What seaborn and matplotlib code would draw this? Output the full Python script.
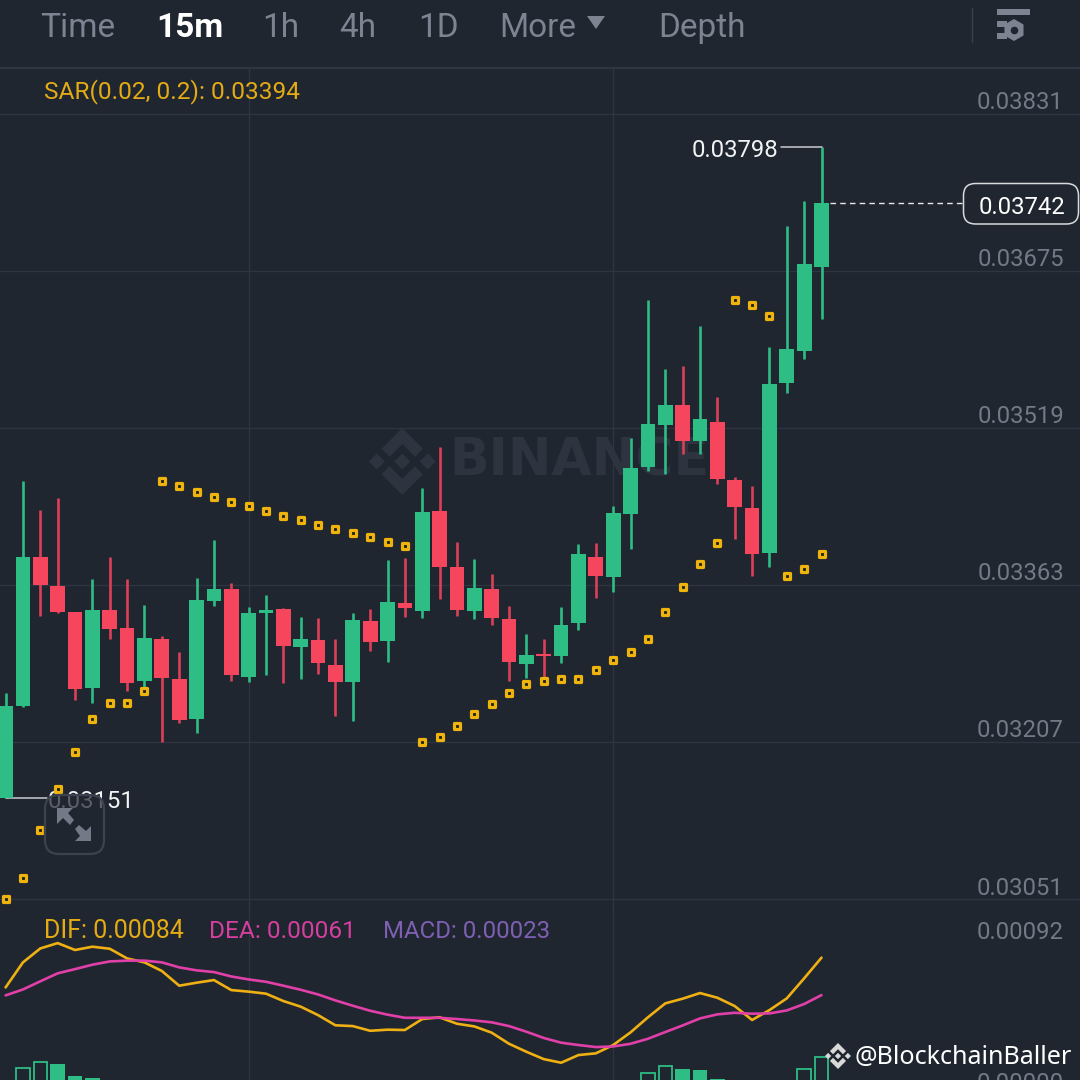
"""
Binance style 15m candlestick chart with SAR and MACD panels.
Prices and MACD values are in units of 0.00001.
"""

import matplotlib
matplotlib.use("Agg")

import matplotlib.pyplot as plt
import numpy as np
import pandas as pd
import seaborn as sns
from matplotlib.patches import FancyBboxPatch, Polygon

# ── Data ─────────────────────────────────────────────────────────────────────
opens = [3151.4, 3242.8, 3390.8, 3361.7, 3335.9, 3260.7, 3337.9, 3320.0, 3267.9, 3309.6,
         3269.6, 3229.9, 3346.8, 3358.7, 3271.9, 3334.9, 3338.8, 3301.7, 3308.6, 3283.5,
         3266.9, 3327.5, 3307.7, 3345.4, 3336.9, 3436.8, 3380.9, 3336.9, 3358.7, 3329.5,
         3284.8, 3294.7, 3292.8, 3324.9, 3390.8, 3371.2, 3434.0, 3480.2, 3522.0, 3541.9,
         3506.1, 3525.0, 3467.0, 3439.8, 3395.1, 3563.4, 3595.5, 3679.3]
highs = [3255.4, 3466.0, 3437.8, 3449.7, 3335.9, 3368.7, 3390.8, 3368.7, 3342.8, 3312.6,
         3296.4, 3369.7, 3407.7, 3364.7, 3340.8, 3352.8, 3339.8, 3330.9, 3329.9, 3309.6,
         3334.9, 3339.5, 3387.8, 3389.5, 3459.7, 3499.8, 3405.7, 3388.5, 3373.9, 3342.4,
         3314.6, 3309.6, 3340.8, 3403.4, 3404.7, 3441.5, 3508.8, 3646.2, 3577.3, 3580.9,
         3620.1, 3550.1, 3470.6, 3461.1, 3599.2, 3720.0, 3744.3, 3798.5]
lows = [3151.4, 3242.1, 3332.2, 3334.9, 3248.7, 3245.8, 3309.0, 3258.0, 3261.9, 3207.0,
        3225.6, 3215.9, 3342.1, 3267.9, 3266.9, 3273.9, 3265.9, 3269.9, 3274.9, 3232.8,
        3227.9, 3297.1, 3286.8, 3330.9, 3329.9, 3349.1, 3331.9, 3328.9, 3323.0, 3267.9,
        3270.9, 3271.9, 3285.8, 3318.0, 3350.1, 3356.0, 3399.1, 3476.3, 3473.0, 3493.5,
        3493.5, 3463.1, 3409.0, 3371.9, 3381.2, 3554.1, 3587.3, 3627.3]
closes = [3242.8, 3390.8, 3363.0, 3335.9, 3260.0, 3337.9, 3319.6, 3265.9, 3310.6, 3270.9,
          3228.9, 3347.8, 3358.7, 3273.9, 3334.9, 3338.5, 3302.1, 3309.6, 3285.8, 3266.9,
          3328.7, 3306.1, 3345.8, 3339.8, 3435.8, 3381.2, 3337.9, 3359.7, 3329.9, 3286.8,
          3293.4, 3292.2, 3323.6, 3393.8, 3372.2, 3434.8, 3479.0, 3523.0, 3541.9, 3506.1,
          3527.9, 3468.0, 3440.2, 3394.1, 3562.7, 3597.2, 3682.0, 3742.3]
sar = [3051.0, 3071.6, 3119.3, 3160.6, 3197.4, 3229.6, 3245.8, 3245.8, 3258.0, 3466.0,
       3461.1, 3455.7, 3450.7, 3445.8, 3441.2, 3436.5, 3431.9, 3427.3, 3422.9, 3418.6,
       3414.4, 3410.4, 3406.0, 3402.1, 3206.7, 3212.0, 3223.2, 3234.5, 3245.1, 3255.4,
       3264.9, 3267.9, 3269.9, 3269.9, 3278.8, 3288.2, 3296.4, 3309.3, 3336.2, 3361.0,
       3383.9, 3404.4, 3646.2, 3641.5, 3630.6, 3371.9, 3378.6, 3393.8]
dif = [65.2, 81.2, 90.1, 93.5, 89.1, 91.2, 89.9, 83.7, 81.2, 75.7, 66.3, 68.2, 69.9, 63.5, 62.5, 61.2,
       56.5, 52.9, 47.5, 41.0, 40.5, 37.5, 38.2, 38.0, 45.0, 46.1, 42.0, 40.3, 36.3, 29.2, 24.1, 19.4,
       17.1, 22.0, 23.1, 28.4, 36.5, 46.1, 55.0, 58.0, 61.6, 58.6, 53.3, 44.4, 50.7, 58.2, 71.0, 84.2]
dea = [60.1, 63.9, 69.1, 74.2, 76.9, 79.7, 81.8, 82.3, 82.3, 81.2, 78.0, 76.1, 75.0, 72.2, 70.3, 68.8,
       66.3, 63.7, 60.7, 56.9, 53.5, 50.3, 47.8, 45.8, 45.8, 45.8, 45.0, 44.1, 42.9, 40.5, 36.9, 32.9,
       29.9, 28.4, 27.1, 27.5, 29.2, 32.4, 36.7, 40.9, 45.4, 48.0, 49.0, 48.4, 48.6, 50.5, 54.6, 60.3]
hist_index = [1, 2, 3, 4, 5, 37, 38, 39, 40, 41, 46, 47]
hist_values = [13.5, 17.7, 16.3, 8.6, 7.5, 10.7, 15.0, 13.0, 12.4, 7.0, 12.8, 20.9]
hist_hollow = [True, True, False, False, False, True, True, False, False, False, True, True]
price_ticks = [3831, 3675, 3519, 3363, 3207, 3051]
macd_ticks = [92, 0]
grid_bars = [14, 35]
intervals = ["Time", "15m", "1h", "4h", "1D", "More", "Depth"]

# ── Colours and geometry ─────────────────────────────────────────────────────
BG = "#1f2630"
GRID = "#2e3541"
GREEN = "#2ebd85"
RED = "#f6465d"
YELLOW = "#eeb30d"
LABEL = "#737a87"
MUTED = "#7c8391"
BAR_PX = 17.36
FIRST_BAR_PX = 5.6
PRICE_PX = 0.99363
MACD_PX = 1.5657
MACD_ZERO_PX = 1089.5
AXIS_FONT = 17.2
LEGEND_FONT = 17.6

sns.set_theme(style="dark", rc={"axes.facecolor": "none", "figure.facecolor": BG})
plt.rcParams["font.family"] = ["Roboto", "DejaVu Sans"]

df = pd.DataFrame({"bar": np.arange(len(opens)), "open": opens, "high": highs, "low": lows,
                   "close": closes, "sar": sar, "dif": dif, "dea": dea})


def logo(ax, cx, cy, r, color):
    """Binance diamond mark, in pixel coordinates."""
    for dx, half in [(-0.76, 0.24), (0, 0.24), (0.76, 0.24)]:
        pts = [(dx - half, 0), (dx, -half), (dx + half, 0), (dx, half)]
        ax.add_patch(Polygon([(cx + r * a, cy + r * b) for a, b in pts], color=color, lw=0))
    for sign in (-1, 1):
        pts = [(0, 1), (0.62, 0.38), (0.38, 0.14), (0, 0.52), (-0.38, 0.14), (-0.62, 0.38)]
        ax.add_patch(Polygon([(cx + r * a, cy + sign * r * b) for a, b in pts], color=color, lw=0))


def px_axes(fig, zorder):
    ax = fig.add_axes([0, 0, 1, 1], zorder=zorder)
    ax.set_xlim(0, 1080)
    ax.set_ylim(1080, 0)
    ax.axis("off")
    return ax


def panel(fig, top, bottom, ylim):
    ax = fig.add_axes([0, 1 - bottom / 1080, 1, (bottom - top) / 1080], zorder=1)
    ax.set_xlim(-FIRST_BAR_PX / BAR_PX, (1080 - FIRST_BAR_PX) / BAR_PX)
    ax.set_ylim(*ylim)
    ax.set_xticks(grid_bars)
    ax.set_xticklabels([])
    ax.set_xlabel("")
    ax.set_ylabel("")
    ax.grid(True, axis="x", color=GRID, lw=1.0)
    ax.tick_params(length=0, labelleft=False, labelbottom=False)
    sns.despine(ax=ax, left=True, bottom=True)
    return ax


def draw_candles(ax):
    up = df["close"] >= df["open"]
    colors = np.where(up, GREEN, RED)
    ax.vlines(df["bar"], df["low"], df["high"], colors=np.where(up, GREEN, "#dc4058"), lw=1.9, zorder=3)
    ax.bar(df["bar"], (df["close"] - df["open"]).abs(), bottom=df[["open", "close"]].min(axis=1),
           width=14.7 / BAR_PX, color=colors, lw=0, zorder=4)


def draw_price_panel(fig):
    ax = panel(fig, 68, 910, (3051 - 11 * PRICE_PX, 3051 + 831 * PRICE_PX))
    ax.set_yticks(price_ticks)
    ax.grid(True, axis="y", color=GRID, lw=1.0)
    draw_candles(ax)
    sns.scatterplot(data=df, x="bar", y="sar", marker="s", s=14, color="#1a1d22", edgecolor=YELLOW,
                    linewidth=2.3, ax=ax, legend=False, zorder=5, clip_on=False)
    ax.set_xlabel("")
    ax.set_ylabel("")
    ax.set_xticklabels([])
    ax.set_yticklabels([])

    for tick in price_ticks:
        ax.annotate(f"{tick / 1e5:.5f}", xy=(1, tick), xycoords=ax.get_yaxis_transform(),
                    xytext=(-16, 11), textcoords="offset pixels", ha="right", va="center",
                    fontsize=AXIS_FONT, color=LABEL)

    # high and low labels
    top = int(np.argmax(highs))
    ax.plot([top - 41 / BAR_PX, top], [highs[top]] * 2, color="#c9ccd1", lw=1.1, zorder=3)
    ax.annotate(f"{highs[top] / 1e5:.5f}"[:7], xy=(top, highs[top]), xytext=(-43, -4),
                textcoords="offset pixels", ha="right", va="center", fontsize=AXIS_FONT, color="#f2f3f5")
    low = int(np.argmin(lows))
    ax.plot([low, low + 41 / BAR_PX], [lows[low]] * 2, color="#c9ccd1", lw=1.1, zorder=3)
    ax.annotate(f"{lows[low] / 1e5:.5f}"[:7], xy=(low, lows[low]), xytext=(42, -4),
                textcoords="offset pixels", ha="left", va="center", fontsize=AXIS_FONT, color="#f2f3f5")

    # last price line
    last = closes[-1]
    ax.plot([df["bar"].iloc[-1] + 8 / BAR_PX, df["bar"].iloc[-1] + 141 / BAR_PX], [last, last],
            color="#e6e8ea", lw=1.0, dashes=(4, 3), zorder=3)
    return ax


def draw_macd_panel(fig):
    ax = panel(fig, 899, 1080, ((MACD_ZERO_PX - 1080) / MACD_PX, (MACD_ZERO_PX - 899) / MACD_PX))
    for i, v, hollow in zip(hist_index, hist_values, hist_hollow):
        if hollow:
            ax.bar(i, v, width=13.5 / BAR_PX, facecolor="none", edgecolor=GREEN, lw=1.3, zorder=2)
        else:
            ax.bar(i, v, width=14.7 / BAR_PX, color=GREEN, lw=0, zorder=2)
    sns.lineplot(data=df, x="bar", y="dif", color="#eeb012", lw=1.9, ax=ax, legend=False, zorder=3)
    sns.lineplot(data=df, x="bar", y="dea", color="#e040a8", lw=1.9, ax=ax, legend=False, zorder=4)
    ax.set_xlabel("")
    ax.set_ylabel("")
    ax.set_xticklabels([])
    ax.set_yticklabels([])
    # the zero label runs off the bottom edge, as on the phone screen
    for tick, lift in zip(macd_ticks, (13, 6)):
        ax.annotate(f"{tick / 1e5:.5f}", xy=(1, tick), xycoords=ax.get_yaxis_transform(),
                    xytext=(-16, lift), textcoords="offset pixels", ha="right", va="center",
                    fontsize=AXIS_FONT, color=LABEL, annotation_clip=False)
    return ax


def draw_chrome(back, front):
    # watermark sits behind the candles
    logo(back, 402.3, 461.5, 33.5, "#2d3440")
    back.text(449, 462, "BINANCE", fontsize=37.5, fontweight="bold", color="#2d3440", va="center", ha="left",
              family="DejaVu Sans")
    back.plot([0, 1080], [68, 68], color=GRID, lw=1.6)

    # header
    xs = [40, 156, 262, 339, 418, 499, 658]
    for name, x in zip(intervals, xs):
        on = name == "15m"
        front.text(x, 28, name, fontsize=24, ha="left", va="center", color="#ffffff" if on else MUTED,
                   fontweight="bold" if on else "normal")
    front.add_patch(Polygon([(587, 16), (605, 16), (596, 29)], color=MUTED, lw=0))
    front.plot([972, 972], [8, 42], color="#3a414d", lw=1.0)
    front.add_patch(Polygon([(997, 9), (1030, 9), (1030, 15), (997, 15)], color=MUTED, lw=0))
    for y in (21, 33):
        front.add_patch(Polygon([(997, y), (1007, y), (1007, y + 6), (997, y + 6)], color=MUTED, lw=0))
    ang = np.deg2rad(np.arange(6) * 60 + 30)
    front.add_patch(Polygon(np.c_[1014 + 11 * np.cos(ang), 30 + 11 * np.sin(ang)], color=MUTED, lw=0))
    front.scatter([1014], [30], s=30, color=BG, lw=0)

    # indicator legends
    front.text(44, 92, "SAR(0.02, 0.2): 0.03394", fontsize=LEGEND_FONT, color="#e5ab14", va="center")
    front.text(44, 931, "DIF: 0.00084", fontsize=18, color="#e5ab14", va="center")
    front.text(209, 931, "DEA: 0.00061", fontsize=LEGEND_FONT, color="#d53f9f", va="center")
    front.text(383, 931, "MACD: 0.00023", fontsize=17.3, color="#7f5fb3", va="center")

    # last price tag
    front.add_patch(FancyBboxPatch((963.5, 183.5), 115, 40.5, boxstyle="round,pad=0,rounding_size=12",
                                   facecolor=BG, edgecolor="#d8dadd", lw=1.1))
    front.text(1065, 208, f"{closes[-1] / 1e5:.5f}", fontsize=AXIS_FONT, color="#ffffff", ha="right", va="center")

    # expand button over the low label
    front.add_patch(FancyBboxPatch((45, 795), 59, 59, boxstyle="round,pad=0,rounding_size=14",
                                   facecolor=BG, alpha=0.72, edgecolor="none"))
    front.add_patch(FancyBboxPatch((45, 795), 59, 59, boxstyle="round,pad=0,rounding_size=14",
                                   facecolor="none", edgecolor="#3c434f", lw=1.6))
    front.add_patch(Polygon([(57, 808), (73, 808), (68, 813), (74, 820), (70, 825), (63, 818), (57, 824)],
                            color="#737a87", lw=0))
    front.add_patch(Polygon([(91, 841), (75, 841), (80, 836), (75, 829), (79, 825), (86, 831), (91, 826)],
                            color="#737a87", lw=0))

    # corner watermark
    logo(front, 838, 1056, 13, "#d9d9d9")
    front.text(855, 1057, "@BlockchainBaller", fontsize=18.1, color="#ffffff", va="center",
               family=["Noto Sans", "DejaVu Sans"])


def main():
    fig = plt.figure(figsize=(10.8, 10.8), dpi=100, facecolor=BG)
    back = px_axes(fig, 0)
    front = px_axes(fig, 3)
    draw_price_panel(fig)
    draw_macd_panel(fig)
    draw_chrome(back, front)
    fig.savefig("out.png", dpi=100, facecolor=BG)


if __name__ == "__main__":
    main()
